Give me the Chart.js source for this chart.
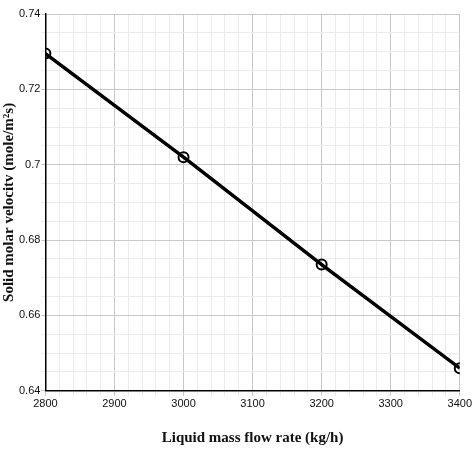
<!DOCTYPE html>
<html><head><meta charset="utf-8">
<script src="https://cdn.jsdelivr.net/npm/chart.js@4/dist/chart.umd.min.js"></script>
<style>html,body{margin:0;background:#fff}#w{width:474px;height:467px}</style>
</head><body><div id="w"><canvas id="c"></canvas></div>
<script>
// values
var flowRates = [2800, 3000, 3200, 3400];
var molarVelocity = [0.7295, 0.702, 0.6735, 0.646];
var xTicks = [2800, 2900, 3000, 3100, 3200, 3300, 3400];
var yTicks = [0.64, 0.66, 0.68, 0.7, 0.72, 0.74];

var tickFont = {family: "'Liberation Sans Narrow', 'Liberation Sans', Arial", size: 11};
function isMajor(v, list) { return list.some(t => Math.abs(t - v) < 1e-6); }

new Chart(document.getElementById('c'), {
    type: 'line',
    data: {
        datasets: [{
            data: flowRates.map((x, i) => ({x: x, y: molarVelocity[i]})),
            borderColor: '#000',
            borderWidth: 3.5,
            pointRadius: 5,
            pointBorderWidth: 2,
            pointBackgroundColor: 'rgba(0,0,0,0)',
            pointBorderColor: '#000'
        }]
    },
    options: {
        responsive: true,
        maintainAspectRatio: false,
        animation: false,
        layout: {padding: {top: 14, right: 8, left: 0, bottom: 16}},
        plugins: {legend: {display: false}, tooltip: {enabled: false}},
        scales: {
            x: {
                type: 'linear', min: 2800, max: 3400,
                ticks: {
                    stepSize: 20, autoSkip: false, maxRotation: 0, padding: 2,
                    color: '#111', font: tickFont,
                    callback: v => isMajor(v, xTicks) ? v : ''
                },
                grid: {
                    color: ctx => isMajor(ctx.tick.value, xTicks) ? '#c8c8c8' : '#ececec',
                    tickLength: 5
                },
                border: {color: '#000', width: 1.5},
                title: {display: true, text: 'Liquid mass flow rate (kg/h)',
                    font: {family: "'Liberation Serif', 'Times New Roman'", size: 15, weight: 'bold'},
                    color: '#111', padding: {top: 16}}
            },
            y: {
                min: 0.64, max: 0.74,
                ticks: {
                    stepSize: 0.005, autoSkip: false, padding: 1,
                    color: '#111', font: tickFont,
                    callback: v => isMajor(v, yTicks) ? +v.toFixed(2) : ''
                },
                grid: {
                    color: ctx => isMajor(ctx.tick.value, yTicks) ? '#c8c8c8' : '#ececec',
                    tickLength: 4
                },
                border: {color: '#000', width: 1.5},
                title: {display: true, text: 'Solid molar velocitv (mole/m²s)',
                    font: {family: "'Liberation Serif', 'Times New Roman'", size: 15, weight: 'bold'},
                    color: '#111', padding: {top: 0, bottom: 0}}
            }
        }
    }
});
</script></body></html>
